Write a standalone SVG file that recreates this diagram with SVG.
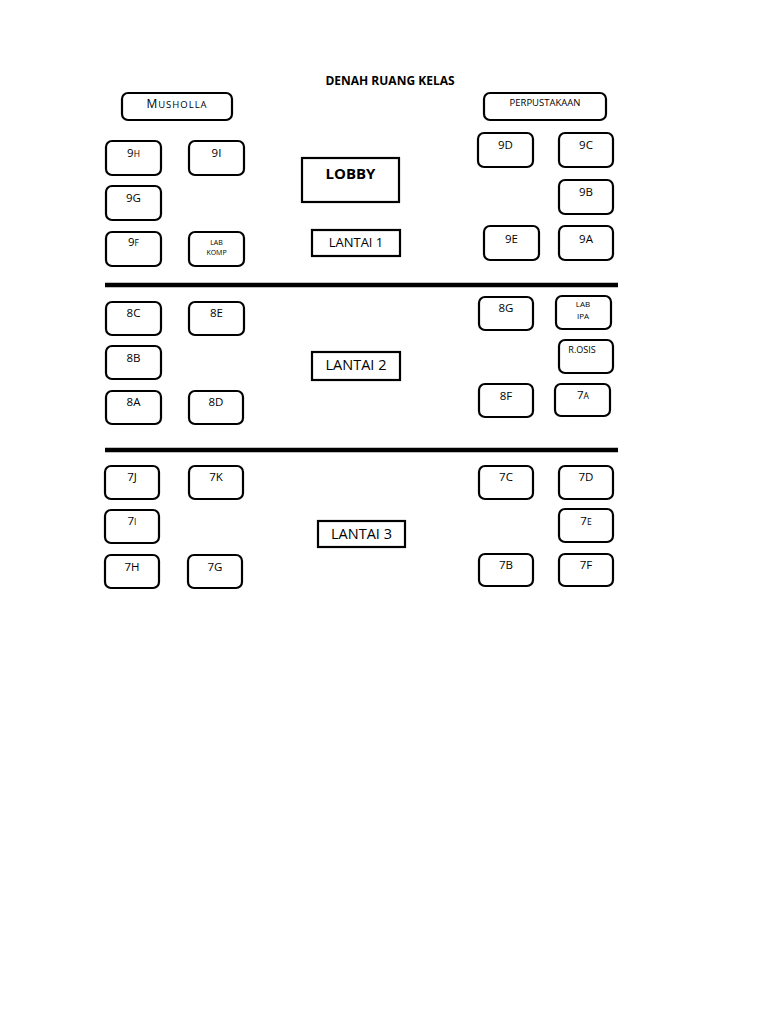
<svg xmlns="http://www.w3.org/2000/svg" width="768" height="1024" viewBox="0 0 768 1024">
<style>
  .room { fill: #ffffff; stroke: #000000; stroke-width: 2.2; }
  .box { fill: #ffffff; stroke: #000000; stroke-width: 2.2; }
  .lbl { font-family: "Open Sans", "DejaVu Sans", sans-serif; font-size: 11.5px; fill: #000000; text-anchor: middle; }
  .sc { font-size: 8.5px; }
  .tiny { font-family: "Open Sans", "DejaVu Sans", sans-serif; font-size: 8px; fill: #000000; text-anchor: middle; }
  .floor { font-family: "Open Sans", "DejaVu Sans", sans-serif; fill: #000000; text-anchor: middle; }
  .title { font-family: "Open Sans", "DejaVu Sans", sans-serif; font-weight: bold; font-size: 12px; fill: #000000; text-anchor: middle; }
  .divider { stroke: #000000; stroke-width: 4.5; }
</style>
<rect width="768" height="1024" fill="#ffffff"/>

<text class="title" x="390" y="85">DENAH RUANG KELAS</text>

<g id="musholla"><rect class="room" x="122" y="93" width="110" height="27" rx="6"/><text class="lbl" x="177" y="108" style="font-size:12px;letter-spacing:1px">M<tspan style="font-size:9.5px">USHOLLA</tspan></text></g>
<g id="perpustakaan"><rect class="room" x="484" y="93" width="122" height="27" rx="6"/><text class="lbl" x="545" y="106" style="font-size:9.5px">PERPUSTAKAAN</text></g>

<g id="r9H"><rect class="room" x="106" y="141" width="55" height="34" rx="6"/><text class="lbl" x="133.5" y="157">9<tspan class="sc">H</tspan></text></g>
<g id="r9I"><rect class="room" x="189" y="141" width="55" height="34" rx="6"/><text class="lbl" x="216.5" y="157">9I</text></g>
<g id="r9G"><rect class="room" x="106" y="186" width="55" height="34" rx="6"/><text class="lbl" x="133.5" y="202">9G</text></g>
<g id="r9F"><rect class="room" x="106" y="232" width="55" height="34" rx="6"/><text class="lbl" x="133.5" y="246">9<tspan class="sc">F</tspan></text></g>
<g id="labkomp"><rect class="room" x="189" y="232" width="55" height="34" rx="6"/><text class="tiny" x="216.5" y="244.5" style="font-size:7px">LAB</text><text class="tiny" x="216.5" y="254.5" style="font-size:7px">KOMP</text></g>

<g id="lobby"><rect class="box" x="302" y="158" width="97" height="44"/><text class="floor" x="350.5" y="179" font-weight="bold" font-size="15">LOBBY</text></g>
<g id="lantai1"><rect class="box" x="312" y="230" width="88" height="26"/><text class="floor" x="356" y="247" font-size="13">LANTAI 1</text></g>

<g id="r9D"><rect class="room" x="478" y="133" width="55" height="34" rx="6"/><text class="lbl" x="505.5" y="149">9D</text></g>
<g id="r9C"><rect class="room" x="559" y="133" width="54" height="34" rx="6"/><text class="lbl" x="586" y="149">9C</text></g>
<g id="r9B"><rect class="room" x="559" y="180" width="54" height="34" rx="6"/><text class="lbl" x="586" y="196">9B</text></g>
<g id="r9E"><rect class="room" x="484" y="226" width="55" height="34" rx="6"/><text class="lbl" x="511.5" y="243">9E</text></g>
<g id="r9A"><rect class="room" x="559" y="226" width="54" height="34" rx="6"/><text class="lbl" x="586" y="243">9A</text></g>

<g id="connectors">
  <line class="divider" x1="105" y1="285" x2="618" y2="285"/>
  <line class="divider" x1="105" y1="450" x2="618" y2="450"/>
</g>

<g id="r8C"><rect class="room" x="106" y="302" width="55" height="33" rx="6"/><text class="lbl" x="133.5" y="317">8C</text></g>
<g id="r8E"><rect class="room" x="189" y="302" width="55" height="33" rx="6"/><text class="lbl" x="216.5" y="317">8E</text></g>
<g id="r8B"><rect class="room" x="106" y="346" width="55" height="33" rx="6"/><text class="lbl" x="133.5" y="362">8B</text></g>
<g id="r8A"><rect class="room" x="106" y="391" width="55" height="33" rx="6"/><text class="lbl" x="133.5" y="406">8A</text></g>
<g id="r8D"><rect class="room" x="189" y="391" width="54" height="33" rx="6"/><text class="lbl" x="216" y="406">8D</text></g>
<g id="lantai2"><rect class="box" x="312" y="352" width="88" height="28"/><text class="floor" x="356" y="370" font-size="14.5">LANTAI 2</text></g>
<g id="r8G"><rect class="room" x="479" y="297" width="54" height="33" rx="6"/><text class="lbl" x="506" y="312">8G</text></g>
<g id="labipa"><rect class="room" x="556" y="296" width="55" height="33" rx="6"/><text class="tiny" x="583" y="307">LAB</text><text class="tiny" x="583" y="319">IPA</text></g>
<g id="rosis"><rect class="room" x="559" y="340" width="54" height="33" rx="6"/><text class="tiny" x="582" y="353" style="font-size:9px">R.OSIS</text></g>
<g id="r8F"><rect class="room" x="479" y="384" width="54" height="33" rx="6"/><text class="lbl" x="506" y="400">8F</text></g>
<g id="r7A"><rect class="room" x="555" y="384" width="55" height="32" rx="6"/><text class="lbl" x="583" y="399">7<tspan class="sc">A</tspan></text></g>

<g id="r7J"><rect class="room" x="105" y="466" width="54" height="33" rx="6"/><text class="lbl" x="132" y="481">7J</text></g>
<g id="r7K"><rect class="room" x="189" y="466" width="54" height="33" rx="6"/><text class="lbl" x="216" y="481">7K</text></g>
<g id="r7I"><rect class="room" x="105" y="510" width="54" height="33" rx="6"/><text class="lbl" x="132" y="525">7<tspan class="sc">I</tspan></text></g>
<g id="r7H"><rect class="room" x="105" y="555" width="54" height="33" rx="6"/><text class="lbl" x="132" y="571">7H</text></g>
<g id="r7G"><rect class="room" x="188" y="555" width="54" height="33" rx="6"/><text class="lbl" x="215" y="571">7G</text></g>
<g id="lantai3"><rect class="box" x="318" y="521" width="87" height="26"/><text class="floor" x="361.5" y="539" font-size="14.5">LANTAI 3</text></g>
<g id="r7C"><rect class="room" x="479" y="466" width="54" height="33" rx="6"/><text class="lbl" x="506" y="481">7C</text></g>
<g id="r7D"><rect class="room" x="559" y="466" width="54" height="33" rx="6"/><text class="lbl" x="586" y="481">7D</text></g>
<g id="r7E"><rect class="room" x="559" y="509" width="54" height="33" rx="6"/><text class="lbl" x="586" y="525">7<tspan class="sc">E</tspan></text></g>
<g id="r7B"><rect class="room" x="479" y="554" width="54" height="32" rx="6"/><text class="lbl" x="506" y="569">7B</text></g>
<g id="r7F"><rect class="room" x="559" y="554" width="54" height="32" rx="6"/><text class="lbl" x="586" y="569">7F</text></g>
</svg>
